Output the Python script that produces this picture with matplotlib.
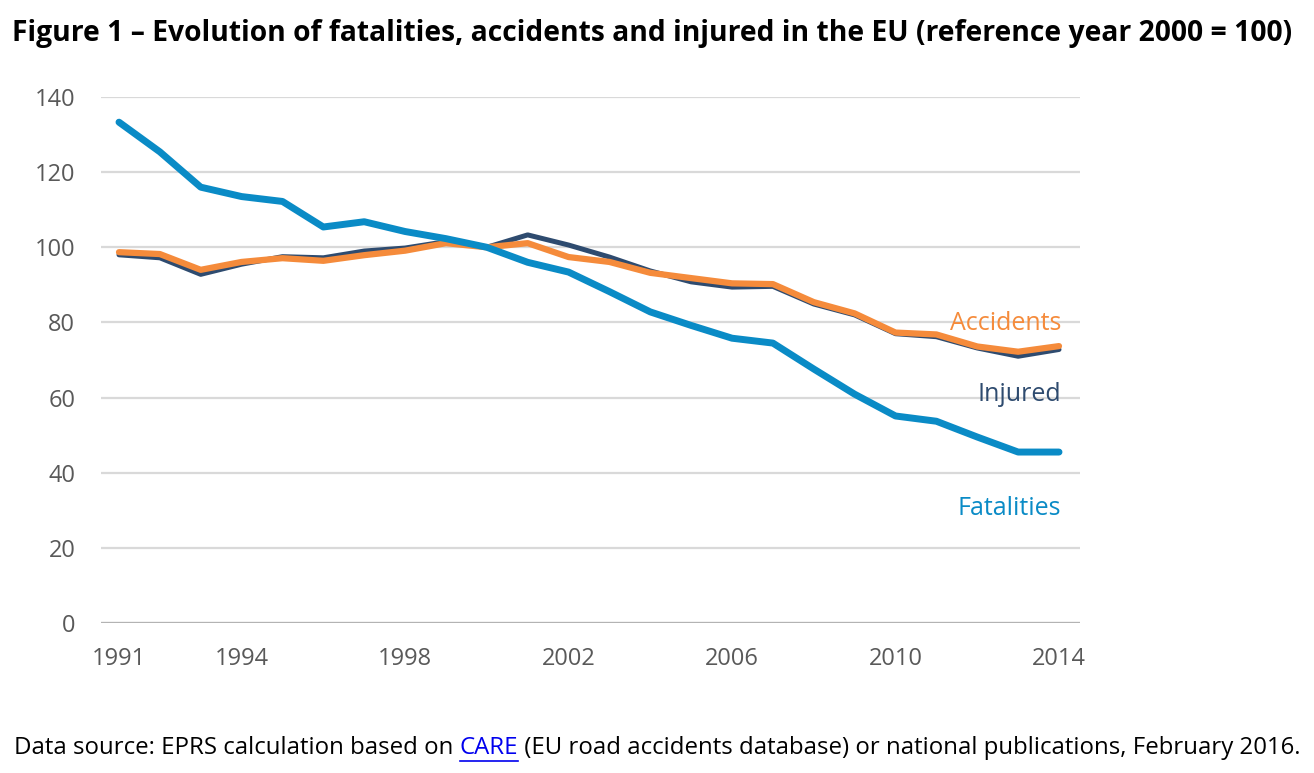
import matplotlib
matplotlib.use("Agg")
import matplotlib.pyplot as plt

years = list(range(1991, 2015))
fatalities = [133.3, 125.4, 116.0, 113.5, 112.2, 105.4, 106.8, 104.2, 102.3, 100.0,
              96.0, 93.4, 88.2, 82.8, 79.2, 75.8, 74.5, 67.6, 60.9, 55.1,
              53.7, 49.5, 45.5, 45.5]
accidents = [98.7, 98.2, 94.0, 96.1, 97.1, 96.4, 97.9, 99.1, 101.1, 100.0,
             101.1, 97.4, 96.1, 93.2, 91.8, 90.4, 90.2, 85.4, 82.4, 77.3,
             76.8, 73.6, 72.2, 73.7]
injured = [98.0, 97.2, 92.8, 95.5, 97.5, 97.2, 99.0, 99.8, 101.5, 100.0,
           103.3, 100.6, 97.4, 93.7, 90.8, 89.4, 89.6, 84.9, 82.0, 77.0,
           76.2, 73.2, 71.0, 72.8]
xticks = [1991, 1994, 1998, 2002, 2006, 2010, 2014]
yticks = [0, 20, 40, 60, 80, 100, 120, 140]

c_fat = "#0a8bc6"
c_acc = "#f58b3b"
c_inj = "#2e4b6f"
tick_col = "#595959"

fig = plt.figure(figsize=(13.14, 7.73), dpi=100)
ax = fig.add_axes([101/1314, 1-623/773, 979/1314, 526/773])

ax.set_xlim(1991 - 18/40.87, 2014 + 21/40.87)
ax.set_ylim(0, 140)

for yv in yticks[1:]:
    ax.axhline(yv, color="#d9d9d9", lw=1.6, zorder=0)
ax.axhline(0, color="#b3b3b3", lw=2.4, zorder=1)

ax.plot(years, injured, color=c_inj, lw=3.6, solid_capstyle="round", zorder=3)
ax.plot(years, accidents, color=c_acc, lw=4.5, solid_capstyle="round", zorder=4)
ax.plot(years, fatalities, color=c_fat, lw=5.0, solid_capstyle="round", zorder=5)

for s in ax.spines.values():
    s.set_visible(False)
ax.set_xticks(xticks)
ax.set_yticks(yticks)
ax.tick_params(length=0, labelsize=17, labelcolor=tick_col)
ax.tick_params(axis="y", pad=18.5)
ax.tick_params(axis="x", pad=17)
for lab in ax.get_xticklabels() + ax.get_yticklabels():
    lab.set_fontfamily("Open Sans")

lx = 2014.05
ax.text(lx, 79.6, "Accidents", color=c_acc, fontsize=18, ha="right", va="center", family="Open Sans")
ax.text(lx, 60.7, "Injured", color=c_inj, fontsize=18, ha="right", va="center", family="Open Sans")
ax.text(lx, 30.4, "Fatalities", color=c_fat, fontsize=18, ha="right", va="center", family="Open Sans")

fig.text(12/1314, 1-33/773,
         "Figure 1 \u2013 Evolution of fatalities, accidents and injured in the EU (reference year 2000 = 100)",
         fontsize=20.3, fontweight="bold", ha="left", va="center", family="Open Sans")

# source line with hyperlink-like CARE
fig.canvas.draw()
r = fig.canvas.get_renderer()
fs = 17.25
ys = 1 - 748/773
t1 = fig.text(14/1314, ys, "Data source: EPRS calculation based on ", fontsize=fs,
              ha="left", va="center", family="Open Sans")
bb = t1.get_window_extent(r)
t2 = fig.text(bb.x1/1314, ys, "CARE", fontsize=fs, color="#0000ee",
              ha="left", va="center", family="Open Sans")
bb2 = t2.get_window_extent(r)
fig.add_artist(plt.Line2D([bb2.x0/1314, bb2.x1/1314], [(773-761)/773]*2, color="#0000ee", lw=1.2))
fig.text(bb2.x1/1314, ys,
         " (EU road accidents database) or national publications, February 2016.",
         fontsize=fs, ha="left", va="center", family="Open Sans")

fig.savefig("out.png", dpi=100)
